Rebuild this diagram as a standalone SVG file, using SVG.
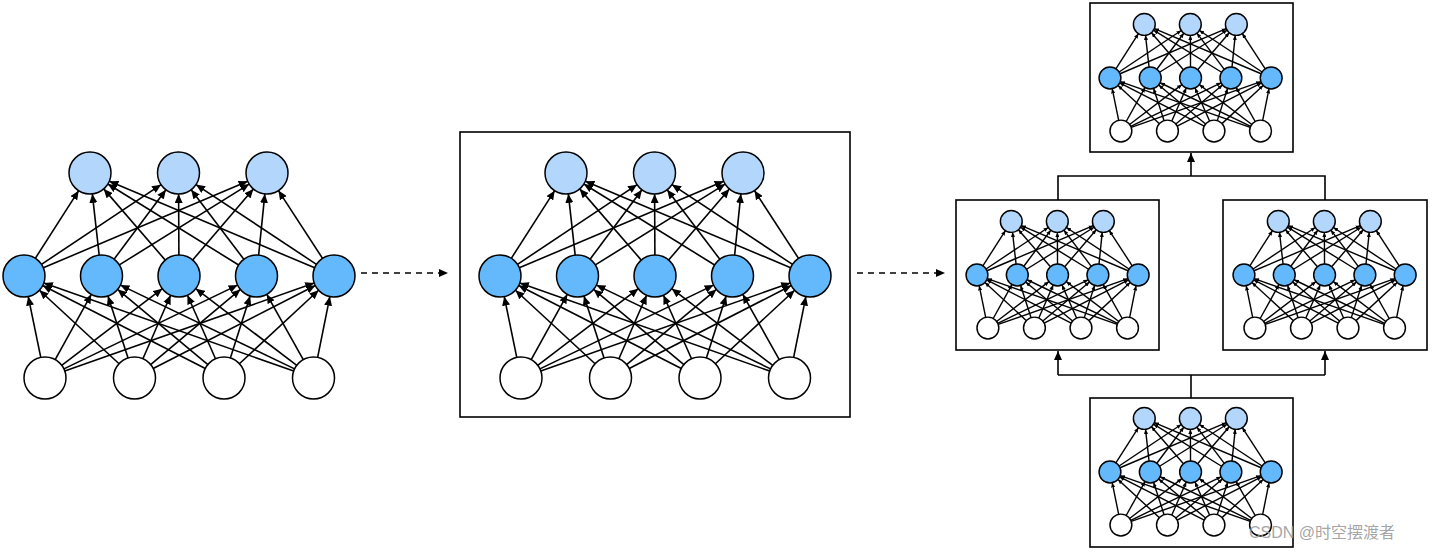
<svg xmlns="http://www.w3.org/2000/svg" xmlns:xlink="http://www.w3.org/1999/xlink" width="1433" height="552" viewBox="0 0 1433 552">
<style>
.e{stroke:#000;stroke-width:var(--sw,1.6);fill:none;marker-end:url(#ah)}
.c{stroke:#000;stroke-width:var(--cw,1.5)}
.o{fill:#b3d7fc}.h{fill:#63b9fc}.i{fill:#fff}
.small{--sw:2.7px;--cw:2.8px}
.box{fill:none;stroke:#000;stroke-width:1.6}
.con{fill:none;stroke:#000;stroke-width:1.6}
.dash{stroke-dasharray:6,5}
</style>
<defs>
<marker id="ah" markerUnits="userSpaceOnUse" markerWidth="10" markerHeight="8" refX="9" refY="4" orient="auto"><path d="M0,0L9,4L0,8z" fill="#000"/></marker>
<marker id="ah2" markerUnits="userSpaceOnUse" markerWidth="10" markerHeight="8" refX="9" refY="4" orient="auto"><path d="M0,0L9,4L0,8z" fill="#000"/></marker>
<g id="net">
<g>
<line class="e" x1="40.76" y1="357.42" x2="28.24" y2="296.58"/>
<line class="e" x1="55.18" y1="359.63" x2="91.32" y2="294.37"/>
<line class="e" x1="61.71" y1="365.28" x2="162.29" y2="288.72"/>
<line class="e" x1="63.92" y1="368.88" x2="237.58" y2="285.12"/>
<line class="e" x1="64.80" y1="371.01" x2="314.20" y2="282.99"/>
<line class="e" x1="119.07" y1="363.76" x2="39.43" y2="290.24"/>
<line class="e" x1="128.04" y1="358.02" x2="107.96" y2="295.98"/>
<line class="e" x1="142.90" y1="358.75" x2="170.60" y2="295.25"/>
<line class="e" x1="150.61" y1="364.53" x2="240.39" y2="289.47"/>
<line class="e" x1="153.20" y1="368.44" x2="315.30" y2="285.56"/>
<line class="e" x1="205.29" y1="368.46" x2="42.71" y2="285.54"/>
<line class="e" x1="207.86" y1="364.56" x2="117.64" y2="289.44"/>
<line class="e" x1="215.52" y1="358.79" x2="187.48" y2="295.21"/>
<line class="e" x1="230.37" y1="358.00" x2="250.13" y2="296.00"/>
<line class="e" x1="239.40" y1="363.72" x2="318.60" y2="290.28"/>
<line class="e" x1="293.69" y1="371.02" x2="43.81" y2="282.98"/>
<line class="e" x1="294.58" y1="368.90" x2="120.42" y2="285.10"/>
<line class="e" x1="296.76" y1="365.30" x2="195.74" y2="288.70"/>
<line class="e" x1="303.25" y1="359.66" x2="266.75" y2="294.34"/>
<line class="e" x1="317.64" y1="357.40" x2="329.86" y2="296.60"/>
<line class="e" x1="35.33" y1="258.31" x2="78.67" y2="190.69"/>
<line class="e" x1="41.47" y1="264.35" x2="161.03" y2="184.65"/>
<line class="e" x1="43.34" y1="267.80" x2="247.66" y2="181.20"/>
<line class="e" x1="99.17" y1="255.12" x2="92.33" y2="193.88"/>
<line class="e" x1="114.07" y1="259.18" x2="165.93" y2="189.82"/>
<line class="e" x1="119.33" y1="264.90" x2="249.17" y2="184.10"/>
<line class="e" x1="165.27" y1="260.11" x2="103.73" y2="188.89"/>
<line class="e" x1="178.90" y1="255" x2="178.60" y2="194"/>
<line class="e" x1="192.64" y1="260.04" x2="253.36" y2="188.96"/>
<line class="e" x1="238.64" y1="264.95" x2="107.86" y2="184.05"/>
<line class="e" x1="243.82" y1="259.26" x2="191.18" y2="189.74"/>
<line class="e" x1="258.63" y1="255.11" x2="264.87" y2="193.89"/>
<line class="e" x1="314.65" y1="267.83" x2="109.35" y2="181.17"/>
<line class="e" x1="316.49" y1="264.40" x2="196.01" y2="184.60"/>
<line class="e" x1="322.55" y1="258.40" x2="278.45" y2="190.60"/>
</g>
<circle class="c o" cx="90" cy="173" r="21"/><circle class="c o" cx="178.5" cy="173" r="21"/><circle class="c o" cx="267" cy="173" r="21"/>
<circle class="c h" cx="24" cy="276" r="21"/><circle class="c h" cx="101.5" cy="276" r="21"/><circle class="c h" cx="179" cy="276" r="21"/><circle class="c h" cx="256.5" cy="276" r="21"/><circle class="c h" cx="334" cy="276" r="21"/>
<circle class="c i" cx="45" cy="378" r="21"/><circle class="c i" cx="134.5" cy="378" r="21"/><circle class="c i" cx="224" cy="378" r="21"/><circle class="c i" cx="313.5" cy="378" r="21"/>
</g>
</defs>
<g id="net-left"><use xlink:href="#net" href="#net"/></g>
<g id="net-middle"><rect class="box" x="460" y="132" width="390" height="285"/><use xlink:href="#net" href="#net" transform="translate(476,0)"/></g>
<g id="net-top"><rect class="box" x="1090" y="3" width="203" height="149"/><use class="small" xlink:href="#net" href="#net" transform="translate(1097.5,-65.5) scale(0.52)"/></g>
<g id="net-midleft"><rect class="box" x="956" y="200" width="203" height="150"/><use class="small" xlink:href="#net" href="#net" transform="translate(964.5,131.5) scale(0.52)"/></g>
<g id="net-midright"><rect class="box" x="1223" y="200" width="204" height="150"/><use class="small" xlink:href="#net" href="#net" transform="translate(1231.5,131.5) scale(0.52)"/></g>
<g id="net-bottom"><rect class="box" x="1090" y="398" width="203" height="149"/><use class="small" xlink:href="#net" href="#net" transform="translate(1097.5,328.5) scale(0.52)"/></g>
<g id="connectors">
<line class="con dash" x1="361" y1="273" x2="448" y2="273" marker-end="url(#ah2)"/>
<line class="con dash" x1="857" y1="273" x2="945" y2="273" marker-end="url(#ah2)"/>
<polyline class="con" points="1058,200 1058,176 1325,176 1325,200"/>
<line class="con" x1="1191" y1="176" x2="1191" y2="153" marker-end="url(#ah2)"/>
<line class="con" x1="1191" y1="398" x2="1191" y2="375"/>
<line class="con" x1="1058" y1="375" x2="1325" y2="375"/>
<line class="con" x1="1058" y1="375" x2="1058" y2="351" marker-end="url(#ah2)"/>
<line class="con" x1="1325" y1="375" x2="1325" y2="351" marker-end="url(#ah2)"/>
</g>
<text x="1249" y="538" font-family="'Liberation Sans','Noto Sans CJK SC',sans-serif" font-size="16" fill="#999" fill-opacity="0.9">CSDN @时空摆渡者</text>
</svg>
